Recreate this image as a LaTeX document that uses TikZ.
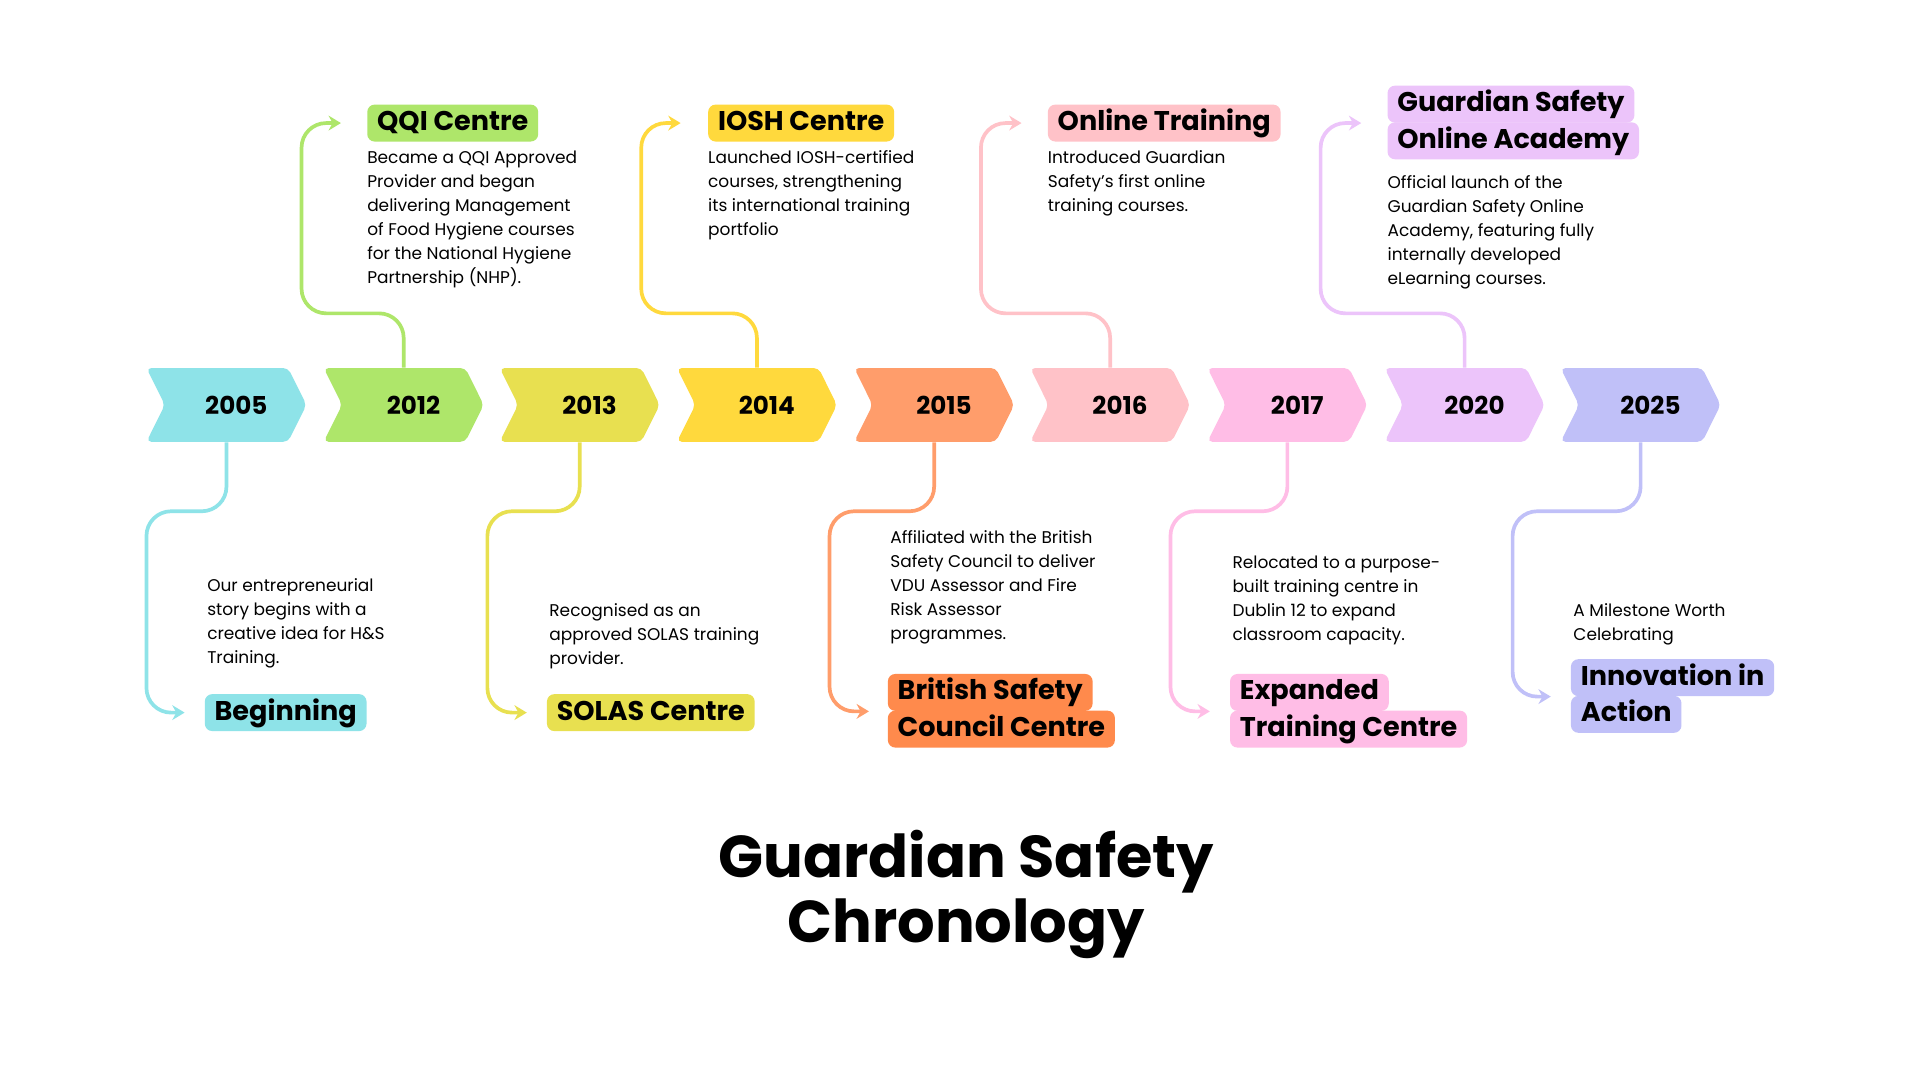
\documentclass[tikz,border=0pt]{standalone}
\usepackage{fontspec}
\setmainfont{Poppins}
\usetikzlibrary{shapes.symbols,arrows.meta,calc,positioning}
\definecolor{cA}{HTML}{8EE3E8}
\definecolor{cB}{HTML}{AEE66A}
\definecolor{cC}{HTML}{E8E050}
\definecolor{cD}{HTML}{FFD93D}
\definecolor{cE}{HTML}{FF9D6B}
\definecolor{cEh}{HTML}{FF8A4C}
\definecolor{cF}{HTML}{FFC2C8}
\definecolor{cG}{HTML}{FFBDE6}
\definecolor{cH}{HTML}{ECC4FA}
\definecolor{cI}{HTML}{C0C0F8}
\tikzset{
  yearbox/.style={signal,signal from=west,signal to=east,signal pointer angle=127,
    minimum width=65pt,minimum height=30pt,inner sep=0pt,rounded corners=2pt,
    font=\fontsize{10}{12}\selectfont\bfseries},
  headbox/.style={anchor=west,rounded corners=3pt,inner xsep=4pt,inner ysep=2pt,
    text height=8.5pt,text depth=2.5pt,font=\fontsize{11}{13}\selectfont\bfseries},
  bodytext/.style={anchor=north west,inner sep=0pt,align=left,
    font=\fontsize{6.9}{9.75}\selectfont},
  link/.style={line width=1.5pt,rounded corners=10pt,-{Stealth[length=5pt,width=6pt]}}
}
\begin{document}
\begin{tikzpicture}[x=0.5pt,y=-0.5pt]
\useasboundingbox[fill=white] (0,0) rectangle (1560,877.5);
% years
\foreach \yr/\cx/\col in {2005/184/cA,2012/328/cB,2013/471/cC,2014/615/cD,2015/759/cE,2016/902/cF,2017/1046/cG,2020/1190/cH,2025/1333/cI}
  \node[yearbox,fill=\col] (y\yr) at (\cx,329) {\hspace*{8pt}\yr};
% headings
\node[headbox,fill=cA] (h2005) at (166,579) {Beginning};
\node[headbox,fill=cB] (h2012) at (298,100) {QQI Centre};
\node[headbox,fill=cC] (h2013) at (444,579) {SOLAS Centre};
\node[headbox,fill=cD] (h2014) at (575,100) {IOSH Centre};
\node[headbox,fill=cEh,anchor=south west] (h2015) at (721,578) {British Safety};
\node[headbox,fill=cEh,anchor=north west] (h2015b) at (721,577) {Council Centre};
\node[headbox,fill=cF] (h2016) at (851,100) {Online Training};
\node[headbox,fill=cG,anchor=south west] (h2017) at (999,578) {Expanded};
\node[headbox,fill=cG,anchor=north west] (h2017b) at (999,577) {Training Centre};
\node[headbox,fill=cH,anchor=south west] (h2020) at (1127,100) {Guardian Safety};
\node[headbox,fill=cH,anchor=north west] (h2020b) at (1127,99) {Online Academy};
\node[headbox,fill=cI,anchor=south west] (h2025) at (1276,566) {Innovation in};
\node[headbox,fill=cI,anchor=north west] (h2025b) at (1276,565) {Action};
% texts
\node[bodytext] (t2005) at (168,470) {Our entrepreneurial\\story begins with a\\creative idea for H\&S\\Training.};
\node[bodytext] (t2012) at (298,122) {Became a QQI Approved\\Provider and began\\delivering Management\\of Food Hygiene courses\\for the National Hygiene\\Partnership (NHP).};
\node[bodytext] (t2013) at (446,490) {Recognised as an\\approved SOLAS training\\provider.};
\node[bodytext] (t2014) at (575,122) {Launched IOSH-certified\\courses, strengthening\\its international training\\portfolio};
\node[bodytext] (t2015) at (723,431) {Affiliated with the British\\Safety Council to deliver\\VDU Assessor and Fire\\Risk Assessor\\programmes.};
\node[bodytext] (t2016) at (851,122) {Introduced Guardian\\Safety’s first online\\training courses.};
\node[bodytext] (t2017) at (1001,451) {Relocated to a purpose-\\built training centre in\\Dublin 12 to expand\\classroom capacity.};
\node[bodytext] (t2020) at (1127,142) {Official launch of the\\Guardian Safety Online\\Academy, featuring fully\\internally developed\\eLearning courses.};
\node[bodytext] (t2025) at (1278,490) {A Milestone Worth\\Celebrating};
% links up
\draw[link,cB] (y2012.north) -- ++(0,-44) -| ($(h2012.west)+(-53,0)$) -- ($(h2012.west)+(-21,0)$);
\draw[link,cD] (y2014.north) -- ++(0,-44) -| ($(h2014.west)+(-54,0)$) -- ($(h2014.west)+(-22,0)$);
\draw[link,cF] (y2016.north) -- ++(0,-44) -| ($(h2016.west)+(-54,0)$) -- ($(h2016.west)+(-21,0)$);
\draw[link,cH] (y2020.north) -- ++(0,-44) -| ($(h2020.south west)+(-54,0)$) -- ($(h2020.south west)+(-21,0)$);
% links down
\draw[link,cA] (y2005.south) -- ++(0,56) -| ($(h2005.west)+(-47,0)$) -- ($(h2005.west)+(-16,0)$);
\draw[link,cC] (y2013.south) -- ++(0,56) -| ($(h2013.west)+(-48,0)$) -- ($(h2013.west)+(-16,0)$);
\draw[link,cE] (y2015.south) -- ++(0,56) -| ($(h2015.south west)+(-47,0)$) -- ($(h2015.south west)+(-15,0)$);
\draw[link,cG] (y2017.south) -- ++(0,56) -| ($(h2017.south west)+(-48,0)$) -- ($(h2017.south west)+(-16,0)$);
\draw[link,cI] (y2025.south) -- ++(0,56) -| ($(h2025.south west)+(-47,0)$) -- ($(h2025.south west)+(-16,0)$);
% title
\node[font=\fontsize{24}{26.5}\selectfont\bfseries,align=center] (title) at (785,727) {Guardian Safety\\Chronology};
\end{tikzpicture}
\end{document}
